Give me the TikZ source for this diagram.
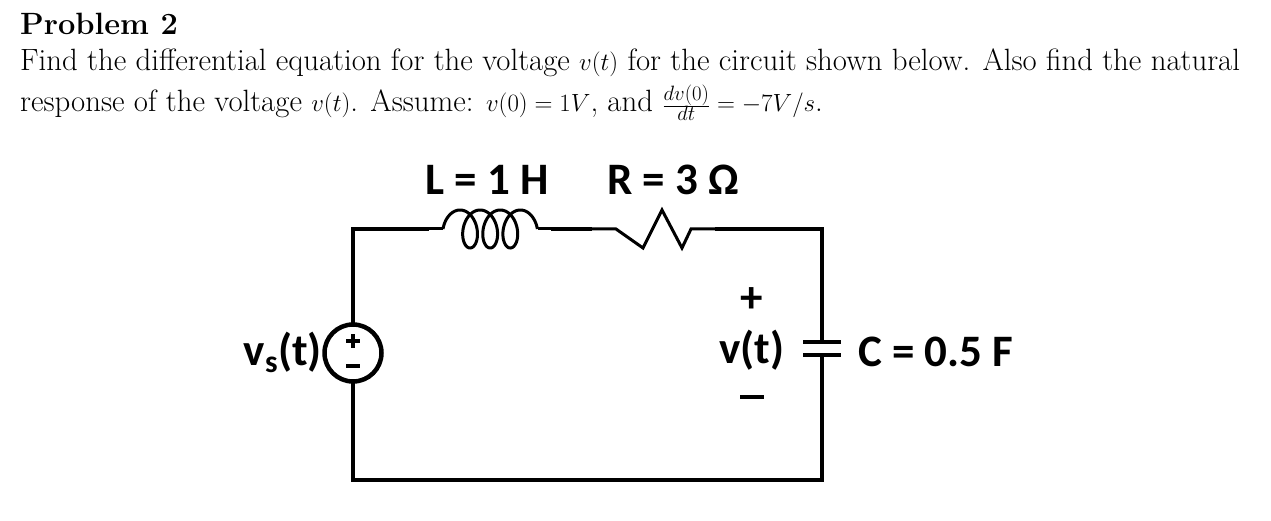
\documentclass[tikz,border=0pt]{standalone}
\usepackage{fontspec}
\newfontfamily\calfont{Carlito}
\begin{document}
\begin{tikzpicture}[x=1pt,y=-1pt,
  wire/.style={line width=4.5pt,line cap=rect},
  thin/.style={line width=3pt},
  lab/.style={font=\calfont\fontsize{45}{46}\selectfont\bfseries,inner sep=0pt},
  txt/.style={anchor=base west,inner sep=0pt,font=\fontsize{30.8}{32}\selectfont}]
\useasboundingbox (0,0) rectangle (1271,521);
\node[txt,font=\fontsize{30.8}{32}\selectfont\bfseries] (title) at (20,35) {Problem 2};
\node[txt] (l1) at (20,71) {Find the differential equation for the voltage \(v(t)\) for the circuit shown below. Also find the natural};
\node[txt] (l2) at (20,112) {response of the voltage \(v(t)\). Assume: \(v(0)=1V\), and \(\frac{dv(0)}{dt}=-7V/s\).};
% nodes
\coordinate (tl) at (353,229);
\coordinate (tr) at (822,229);
\coordinate (bl) at (353,480);
\coordinate (br) at (822,480);
\coordinate (li) at (427,229);
\coordinate (lo) at (553,229);
\coordinate (ri) at (590,229);
\coordinate (ro) at (717,229);
\node[circle,draw,line width=4.5pt,minimum size=57pt,inner sep=0pt] (src) at (353,353) {};
\draw[line width=3.5pt] (346,341) -- (360,341) (353,334) -- (353,348);
\draw[line width=3.5pt] (346,366) -- (360,366);
\coordinate (cp) at (822,342);
\coordinate (cm) at (822,355);
\draw[wire] (src.north) -- (tl) -- (li);
\draw[wire] (lo) -- (ri);
\draw[wire] (ro) -- (tr) -- (cp);
\draw[wire] (cm) -- (br) -- (bl) -- (src.south);
\draw[wire,line cap=butt] (803,342) -- (841,342);
\draw[wire,line cap=butt] (803,355) -- (841,355);
\draw[thin] (li) -- (443,229);
\draw[thin,domain=-90:1170,samples=300,smooth,variable=\t]
  plot ({443+3.2*(\t*pi/180+pi/2)+12+12*sin(\t)},{229-19*cos(\t)});
\draw[thin] (538,229) -- (lo);
\draw[thin,line join=miter] (ri) -- (616,229) -- (643,248) -- (662,210) -- (682,248) -- (691,229) -- (ro);
\node[lab] (L) at (487,180) {L = 1 H};
\node[lab] (R) at (673,180) {R = 3 Ω};
\node[lab] (pl) at (752,300) {+};
\node[lab] (vt) at (752,350) {v(t)};
\draw[line width=4pt] (740,397) -- (764,397);
\node[lab,anchor=west] (C) at (858,352) {C = 0.5 F};
\node[lab,anchor=east] (vs) at (322,352) {v\textsubscript{s}(t)};
\end{tikzpicture}
\end{document}
